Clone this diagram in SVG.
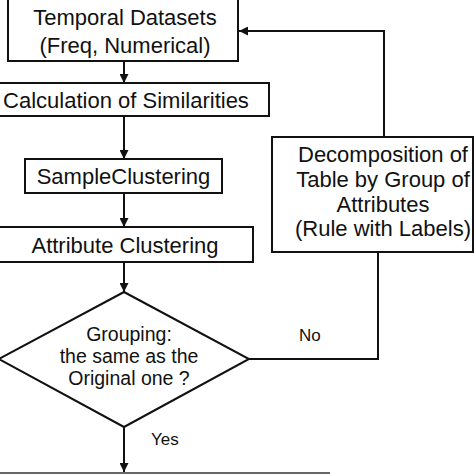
<svg xmlns="http://www.w3.org/2000/svg" width="474" height="474" viewBox="0 0 474 474">
<defs>
<marker id="ah" viewBox="0 0 10 10" refX="10" refY="5" markerWidth="4.5" markerHeight="4.5" orient="auto" markerUnits="strokeWidth">
<path d="M0,0 L10,5 L0,10 Z" fill="#111"/>
</marker>
</defs>
<style>
.box{fill:#fff;stroke:#111;stroke-width:2}
.t{font-family:"Liberation Sans",Arial,sans-serif;font-size:22px;fill:#111;text-anchor:middle}
.s{font-family:"Liberation Sans",Arial,sans-serif;font-size:19.5px;fill:#111;text-anchor:middle}
.l{font-family:"Liberation Sans",Arial,sans-serif;font-size:17px;fill:#111}
.c{fill:none;stroke:#111;stroke-width:2}
</style>
<rect width="474" height="474" fill="#fff"/>
<g id="connectors">
<line class="c" x1="124" y1="61" x2="124" y2="83" marker-end="url(#ah)"/>
<line class="c" x1="124" y1="116" x2="124" y2="159" marker-end="url(#ah)"/>
<line class="c" x1="124" y1="193" x2="124" y2="227" marker-end="url(#ah)"/>
<line class="c" x1="124" y1="262" x2="124" y2="292" marker-end="url(#ah)"/>
<polyline class="c" points="249,359 378,359 378,252"/>
<polyline class="c" points="384,137 384,31 239,31" marker-end="url(#ah)"/>
<line class="c" x1="124" y1="427" x2="124" y2="472" marker-end="url(#ah)"/>
<text class="l" x="299" y="341">No</text>
<text class="l" x="151" y="445">Yes</text>
</g>
<g id="n1">
<rect class="box" x="8" y="-2" width="230" height="63"/>
<text class="t" x="125" y="25">Temporal Datasets</text>
<text class="t" x="125" y="53">(Freq, Numerical)</text>
</g>
<g id="n2">
<rect class="box" x="-2" y="83" width="271" height="33"/>
<text class="t" x="126" y="108">Calculation of Similarities</text>
</g>
<g id="n3">
<rect class="box" x="25" y="159" width="197" height="34"/>
<text class="t" x="123.5" y="184">SampleClustering</text>
</g>
<g id="n4">
<rect class="box" x="-2" y="227" width="255" height="35"/>
<text class="t" x="125" y="253">Attribute Clustering</text>
</g>
<g id="n5">
<polygon class="box" points="124,292 249,359 124,427 -1,359"/>
<text class="s" x="129" y="341">Grouping:</text>
<text class="s" x="129" y="363">the same as the</text>
<text class="s" x="129" y="385">Original one ?</text>
</g>
<g id="n6">
<rect class="box" x="272" y="137" width="201" height="115"/>
<text class="t" x="383" y="162">Decomposition of</text>
<text class="t" x="383" y="187">Table by Group of</text>
<text class="t" x="383" y="212">Attributes</text>
<text class="t" x="383" y="236">(Rule with Labels)</text>
</g>
<g id="n7">
<rect x="0" y="472" width="330" height="6" fill="#666"/>
</g>
</svg>
